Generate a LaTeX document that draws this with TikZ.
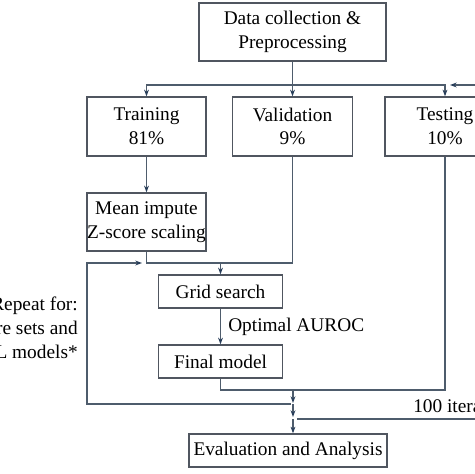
\documentclass[tikz,border=0pt]{standalone}
\usepackage{fontspec}
\setmainfont{Liberation Serif}
\usetikzlibrary{arrows.meta}
\definecolor{linec}{RGB}{78,92,108}
\definecolor{boxc}{RGB}{80,86,96}
\definecolor{headc}{RGB}{40,62,90}
\begin{document}
\begin{tikzpicture}[x=0.75pt,y=-0.75pt,
  every node/.style={font=\fontsize{14.5}{17.8}\selectfont},
  box/.style={draw=boxc,line width=1pt,inner sep=0pt,align=center,text=black},
  conn/.style={draw=linec,line width=0.9pt},
  arr/.style={conn,-{Stealth[length=5pt,width=3.6pt,color=headc]}},
  lbl/.style={inner sep=0pt,text=black}]
\useasboundingbox (0,0) rectangle (474,474);
\fill[white] (0,0) rectangle (474,474);
% boxes
\node[box,minimum width=140.25pt,minimum height=43.5pt] (top) at (292.5,32) {Data collection \&\\Preprocessing};
\node[box,minimum width=89.25pt,minimum height=44.25pt] (train) at (146.5,126.5) {Training\\81\%};
\node[box,minimum width=90pt,minimum height=44.25pt] (valid) at (292.5,126.5) {Validation\\9\%};
\node[box,minimum width=90pt,minimum height=44.25pt] (test) at (445,126.5) {Testing\\10\%};
\node[box,minimum width=89.25pt,minimum height=43.5pt] (impute) at (146.5,222) {Mean impute\\Z-score scaling};
\node[box,minimum width=93pt,minimum height=24.75pt] (grid) at (220.5,291.5) {Grid search};
\node[box,minimum width=93pt,minimum height=24.75pt] (final) at (220.5,361.5) {Final model};
\node[box,minimum width=148.5pt,minimum height=24.75pt] (eval) at (288,450.5) {Evaluation and Analysis};
% labels
\node[lbl,align=right,anchor=east] (repeat) at (78,328) {Repeat for:\\feature sets and\\ML models*};
\node[lbl,anchor=west] (auroc) at (228,327) {Optimal AUROC};
\node[lbl,anchor=base west] (iter) at (413,412) {100 iterations};
% coordinates
\coordinate (jv) at (292.5,85);
\coordinate (back) at (490,85);
\coordinate (backtip) at (450,85);
\coordinate (jg) at (220.5,263);
\coordinate (fbR) at (291,404);
\coordinate (fbL) at (87,404);
\coordinate (fbTop) at (87,263);
\coordinate (fbTip) at (142,263);
\coordinate (jf) at (293,390);
\coordinate (a1) at (293,403);
\coordinate (a2) at (293,404);
\coordinate (a3) at (293,417);
\coordinate (a4) at (293,419);
\coordinate (it) at (297,419);
\coordinate (itR) at (490,419);
% connectors
\draw[arr] (top.south) -- (valid.north);
\draw[arr] (jv) -| (train.north);
\draw[arr] (jv) -| (test.north);
\draw[arr] (back) -- (backtip);
\draw[arr] (train.south) -- (impute.north);
\draw[conn] (impute.south) |- (jg) -| (valid.south);
\draw[arr] (jg) -- (grid.north);
\draw[arr] (fbR) -- (fbL) -- (fbTop) -- (fbTip);
\draw[arr] (grid.south) -- (final.north);
\draw[conn] (final.south) |- (jf) -| (test.south);
\draw[arr] (jf) -- (a1);
\draw[arr] (a2) -- (a3);
\draw[arr] (a4) -- (a4 |- eval.north);
\draw[conn] (it) -- (itR);
\end{tikzpicture}
\end{document}
